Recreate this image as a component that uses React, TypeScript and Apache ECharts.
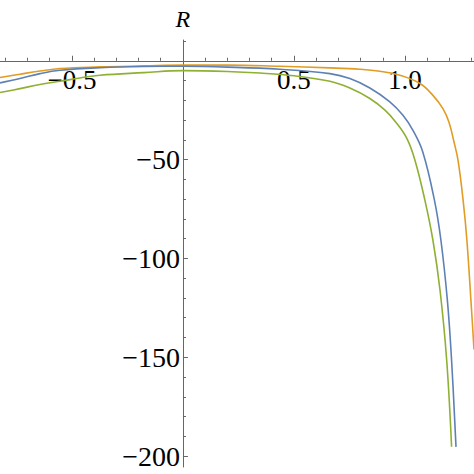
import React, { useEffect, useRef } from "react";
import * as echarts from "echarts";

// Curve samples: [x, R]
const orangeCurve: [number, number][] = [
  [-0.824, -8.5], [-0.734, -6.8], [-0.644, -5.2], [-0.554, -3.9], [-0.374, -3.1],
  [-0.176, -2.6], [0, -2.2], [0.2, -2.2], [0.437, -2.8], [0.662, -3.6],
  [0.797, -4.3], [0.887, -5.3], [0.977, -7.3], [1.068, -11.5], [1.126, -17.5],
  [1.171, -24.2], [1.198, -31.0], [1.221, -41.1], [1.239, -50.3], [1.262, -70.6],
  [1.279, -90.8], [1.3, -126.2], [1.311, -146.0],
];
const blueCurve: [number, number][] = [
  [-0.824, -11.2], [-0.734, -9.0], [-0.644, -6.5], [-0.554, -4.8], [-0.374, -3.5],
  [-0.176, -2.9], [0, -2.8], [0.2, -3.2], [0.437, -4.3], [0.662, -6.5],
  [0.752, -9.0], [0.842, -13.8], [0.932, -20.8], [0.991, -27.6], [1.036, -35.2],
  [1.08, -46.0], [1.133, -70.6], [1.162, -90.8], [1.191, -121.1],
  [1.21, -151.5], [1.23, -195.3],
];
const greenCurve: [number, number][] = [
  [-0.824, -16.1], [-0.734, -14.1], [-0.644, -12.0], [-0.554, -10.4], [-0.464, -8.7],
  [-0.374, -7.3], [-0.176, -6.0], [0, -5.0], [0.2, -5.4], [0.347, -6.2],
  [0.5, -7.6], [0.662, -10.4], [0.752, -13.8], [0.842, -19.1], [0.91, -25.0],
  [0.959, -31.1], [1.009, -39.4], [1.045, -50.3], [1.09, -70.6], [1.126, -90.8],
  [1.158, -116.1], [1.188, -151.5], [1.21, -195.3],
];

const xMajorTicks = [-0.5, 0.5, 1.0];
const xMinorTicks = [-0.8, -0.7, -0.6, -0.4, -0.3, -0.2, -0.1, 0.1, 0.2, 0.3, 0.4, 0.6, 0.7, 0.8, 0.9, 1.1, 1.2, 1.3];
const yMajorTicks = [-200, -150, -100, -50];
const yMinorTicks = [
  -190, -180, -170, -160, -140, -130, -120, -110, -90, -80, -70, -60, -40, -30, -20, -10, 10,
];

const X_MIN = -0.824;
const X_MAX = 1.311;
const Y_MIN = -205.5;
const Y_MAX = 10.5;

const W = 474;
const H = 474;
const GRID_TOP = 40;
const GRID_BOTTOM = 7;

const fmt = (v: number) => {
  const s = Math.abs(v) < 10 ? Math.abs(v).toFixed(1) : String(Math.abs(v));
  return v < 0 ? "\u2212" + s : s;
};

export default function App() {
  const ref = useRef<HTMLDivElement>(null);
  useEffect(() => {
    if (!ref.current) return;
    const chart = echarts.init(ref.current, null, { renderer: "svg" });
    const axisColor = "#666666";
    const gridH = H - GRID_TOP - GRID_BOTTOM;
    // place axis lines on the zero of the other axis (labels follow the line)
    const yAxisOffset = -(W * (0 - X_MIN)) / (X_MAX - X_MIN);
    const xAxisOffset = -(gridH * (0 - Y_MIN)) / (Y_MAX - Y_MIN);
    chart.setOption({
      animation: false,
      backgroundColor: "#ffffff",
      grid: { left: 0, right: 0, top: GRID_TOP, bottom: GRID_BOTTOM, containLabel: false, outerBoundsMode: "none" },
      xAxis: [
        {
          type: "value",
          min: X_MIN,
          max: X_MAX,
          position: "bottom",
          offset: xAxisOffset,
          axisLine: { show: true, onZero: false, lineStyle: { color: axisColor, width: 1 } },
          axisTick: { show: true, inside: true, length: 5, customValues: xMajorTicks, lineStyle: { color: axisColor } },
          axisLabel: {
            show: true,
            customValues: xMajorTicks,
            formatter: (v: number) => fmt(v),
            margin: 6,
            fontFamily: "Liberation Serif",
            fontSize: 27,
            color: "#000000",
          },
          splitLine: { show: false },
        },
        {
          type: "value",
          min: X_MIN,
          max: X_MAX,
          position: "bottom",
          offset: xAxisOffset,
          axisLine: { show: false, onZero: false },
          axisTick: { show: true, inside: true, length: 3, customValues: xMinorTicks, lineStyle: { color: axisColor } },
          axisLabel: { show: false },
          splitLine: { show: false },
        },
      ],
      yAxis: [
        {
          type: "value",
          min: Y_MIN,
          max: Y_MAX,
          position: "left",
          offset: yAxisOffset,
          name: "R",
          nameLocation: "end",
          nameGap: 9,
          nameTextStyle: {
            fontFamily: "Liberation Serif",
            fontStyle: "italic",
            fontSize: 24,
            color: "#000000",
            align: "center",
          },
          axisLine: { show: true, onZero: false, lineStyle: { color: axisColor, width: 1 } },
          axisTick: { show: true, inside: true, length: 5, customValues: yMajorTicks, lineStyle: { color: axisColor } },
          axisLabel: {
            show: true,
            customValues: yMajorTicks,
            formatter: (v: number) => fmt(v),
            margin: 3,
            fontFamily: "Liberation Serif",
            fontSize: 28,
            color: "#000000",
          },
          splitLine: { show: false },
        },
        {
          type: "value",
          min: Y_MIN,
          max: Y_MAX,
          position: "left",
          offset: yAxisOffset,
          axisLine: { show: false, onZero: false },
          axisTick: { show: true, inside: true, length: 3, customValues: yMinorTicks, lineStyle: { color: axisColor } },
          axisLabel: { show: false },
          splitLine: { show: false },
        },
      ],
      series: [
        { data: orangeCurve, color: "#e19c24" },
        { data: blueCurve, color: "#5e81b5" },
        { data: greenCurve, color: "#8fb032" },
      ].map((s) => ({
        type: "line",
        xAxisIndex: 0,
        yAxisIndex: 0,
        data: s.data,
        showSymbol: false,
        symbol: "none",
        smooth: 0.4,
        clip: true,
        lineStyle: { color: s.color, width: 1.6 },
        itemStyle: { color: s.color },
      })),
    });
    return () => chart.dispose();
  }, []);
  return <div ref={ref} style={{ position: "fixed", left: 0, top: 0, width: W, height: H }} />;
}
